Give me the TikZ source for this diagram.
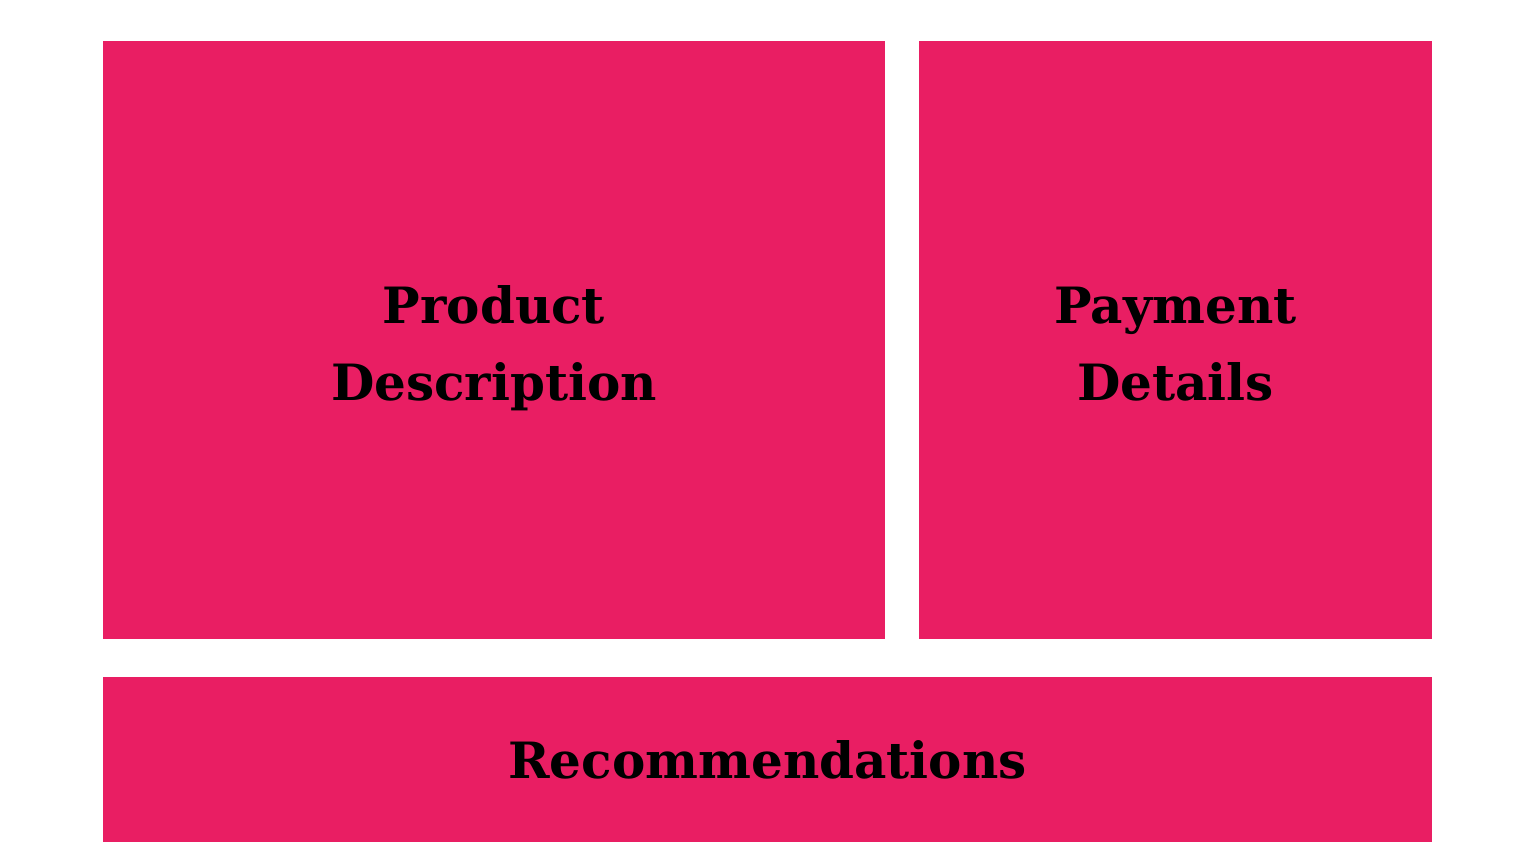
\documentclass[tikz,border=0pt]{standalone}
\usepackage{fontspec}
\setmainfont{DejaVu Serif}
\definecolor{panelpink}{HTML}{E91E63}
\newcommand\panelstrut{\rule[-5.5pt]{0pt}{32.5pt}}
\tikzset{
  panel/.style = {fill=panelpink, draw=none, inner sep=0pt, align=center,
    font=\bfseries\fontsize{25}{38.5}\selectfont}
}
\begin{document}
\begin{tikzpicture}[x=0.5pt,y=-0.5pt]
    \useasboundingbox (0,0) rectangle (1536,864);
    \node[panel, minimum width=391pt, minimum height=299pt] (product) at (494,340) {\panelstrut Product\\\panelstrut Description};
    \node[panel, minimum width=256.5pt, minimum height=299pt] (payment) at (1175.5,340) {\panelstrut Payment\\\panelstrut Details};
    \node[panel, minimum width=664.5pt, minimum height=82.5pt] (recommend) at (767.5,759.5) {Recommendations};
\end{tikzpicture}
\end{document}
